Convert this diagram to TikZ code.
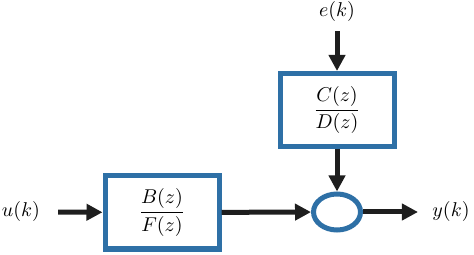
\documentclass[tikz,border=0pt]{standalone}
\usepackage{amsmath,amssymb}
\usetikzlibrary{arrows.meta,shapes.geometric}
\definecolor{boxblue}{RGB}{46,112,166}
\definecolor{arrowgray}{RGB}{30,30,30}

\begin{document}
\begin{tikzpicture}[
  x=0.5pt, y=-0.5pt,
  block/.style={draw=boxblue, line width=2.5pt, minimum width=57pt,
                minimum height=36.5pt, fill=white},
  sumnode/.style={draw=boxblue, line width=2.5pt, ellipse, inner sep=0pt,
                  minimum width=23.5pt, minimum height=18pt},
  sig/.style={font=\normalsize},
  every edge/.style={draw=arrowgray, line width=2.5pt,
                     -{Triangle[length=8pt, width=8pt]}}
]
  \useasboundingbox (0,0) rectangle (474,255);

  \node[block]   (BF) at (162,212.5) {$\dfrac{B(z)}{F(z)}$};
  \node[block]   (CD) at (337,110)   {$\dfrac{C(z)}{D(z)}$};
  \node[sumnode] (S)  at (337,212)   {};

  \node[sig] (uk) at (21,212)  {$u(k)$};
  \node[sig] (ek) at (337,12)  {$e(k)$};
  \node[sig] (yk) at (451,212) {$y(k)$};

  \draw (uk) edge[shorten <=5.5pt] (BF);
  \draw (ek) edge[shorten <=1pt] (CD);
  \draw (CD) edge (S);
  \draw (BF) edge (S);
  \draw (S) edge[shorten >=3.7pt] (yk);
\end{tikzpicture}
\end{document}
